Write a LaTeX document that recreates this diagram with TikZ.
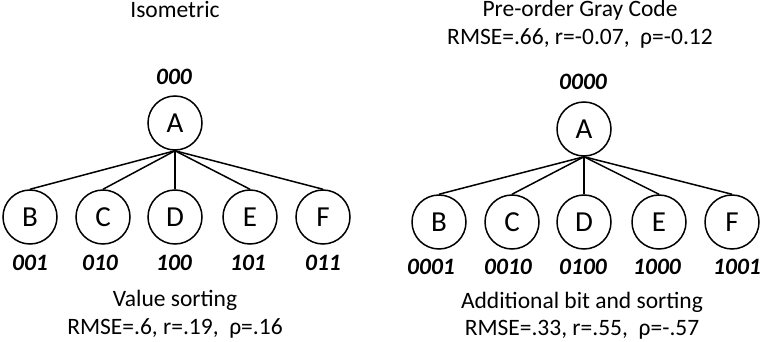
\documentclass[tikz,border=0pt]{standalone}
\usepackage{fontspec}
\setmainfont{Carlito}
\begin{document}
\begin{tikzpicture}[x=1pt,y=-1pt,
  vert/.style={circle,draw,line width=1.5pt,minimum size=54pt,inner sep=0pt,font=\fontsize{29}{31}\selectfont},
  code/.style={font=\fontsize{23.5}{25}\selectfont\bfseries\itshape,inner sep=0pt},
  caption/.style={font=\fontsize{23.5}{25}\selectfont,inner sep=0pt},
  edge/.style={line width=1.5pt}]
\useasboundingbox (0,0) rectangle (763,342);
% left tree
\node[caption] (t1) at (175,10) {Isometric};
\node[code] (c1a) at (174,77) {000};
\node[vert] (A1) at (175,123) {A};
\node[vert] (B1) at (30,217) {B};
\node[vert] (C1) at (103,217) {C};
\node[vert] (D1) at (175,217) {D};
\node[vert] (E1) at (250,217) {E};
\node[vert] (F1) at (323,217) {F};
\foreach \n in {B1,C1,D1,E1,F1} \draw[edge] (A1.south) -- (\n.north);
\node[code] (c1b) at (30,263) {001};
\node[code] (c1c) at (100,263) {010};
\node[code] (c1d) at (174,263) {100};
\node[code] (c1e) at (248,263) {101};
\node[code] (c1f) at (323,263) {011};
\node[caption] (s1) at (175,300) {Value sorting};
\node[caption] (m1) at (175,328) {RMSE=.6, r=.19, \ ρ=.16};
% right tree
\node[caption] (t2) at (580,10) {Pre-order Gray Code};
\node[caption] (m2) at (580,38) {RMSE=.66, r=-0.07, \ ρ=-0.12};
\node[code] (c2a) at (583,82) {0000};
\node[vert] (A2) at (584,129) {A};
\node[vert] (B2) at (439,222) {B};
\node[vert] (C2) at (512,222) {C};
\node[vert] (D2) at (584,222) {D};
\node[vert] (E2) at (659,222) {E};
\node[vert] (F2) at (732,222) {F};
\foreach \n in {B2,C2,D2,E2,F2} \draw[edge] (A2.south) -- (\n.north);
\node[code] (c2b) at (431,267) {0001};
\node[code] (c2c) at (508,267) {0010};
\node[code] (c2d) at (583,267) {0100};
\node[code] (c2e) at (657,267) {1000};
\node[code] (c2f) at (737,267) {1001};
\node[caption] (s2) at (582,302) {Additional bit and sorting};
\node[caption] (m2b) at (582,330) {RMSE=.33, r=.55, \ ρ=-.57};
\end{tikzpicture}
\end{document}
